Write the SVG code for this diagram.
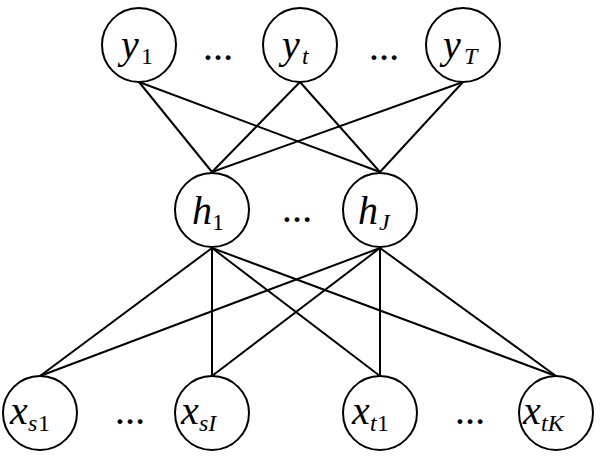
<svg xmlns="http://www.w3.org/2000/svg" width="603" height="457" viewBox="0 0 603 457">
<style>
circle{fill:#fff;stroke:#000;stroke-width:2}
line{stroke:#000;stroke-width:2}
text{font-family:"Liberation Serif",serif;fill:#000}
.v{font-size:40px;font-style:italic}
.s{font-size:24px}
.si{font-size:24px;font-style:italic}
.d{font-size:30px;font-weight:bold}
</style>
<rect width="603" height="457" fill="#fff"/>
<g id="connectors">
<line x1="139" y1="82" x2="212" y2="172"/><line x1="139" y1="82" x2="380" y2="172"/>
<line x1="300" y1="82" x2="212" y2="172"/><line x1="300" y1="82" x2="380" y2="172"/>
<line x1="463" y1="82" x2="212" y2="172"/><line x1="463" y1="82" x2="380" y2="172"/>
<line x1="212" y1="248" x2="40" y2="376"/><line x1="212" y1="248" x2="212" y2="376"/><line x1="212" y1="248" x2="380" y2="376"/><line x1="212" y1="248" x2="556" y2="376"/>
<line x1="380" y1="248" x2="40" y2="376"/><line x1="380" y1="248" x2="212" y2="376"/><line x1="380" y1="248" x2="380" y2="376"/><line x1="380" y1="248" x2="556" y2="376"/>
</g>
<g id="y1"><circle cx="139" cy="45" r="37"/><text class="v" x="121" y="58">y</text><text class="s" x="141" y="64">1</text></g>
<g id="yt"><circle cx="300" cy="45" r="37"/><text class="v" x="282" y="58">y</text><text class="si" x="302" y="64">t</text></g>
<g id="yT"><circle cx="463" cy="45" r="37"/><text class="v" x="443" y="58">y</text><text class="si" x="464" y="64">T</text></g>
<g id="h1"><circle cx="212" cy="210" r="37"/><text class="v" x="192" y="224">h</text><text class="s" x="212" y="230">1</text></g>
<g id="hJ"><circle cx="380" cy="210" r="37"/><text class="v" x="358" y="224">h</text><text class="si" x="379" y="230">J</text></g>
<g id="xs1"><circle cx="40" cy="413" r="37"/><text class="v" x="10" y="424">x</text><text class="si" x="28" y="431">s</text><text class="s" x="38" y="431">1</text></g>
<g id="xsI"><circle cx="212" cy="413" r="37"/><text class="v" x="181" y="424">x</text><text class="si" x="199" y="431">sI</text></g>
<g id="xt1"><circle cx="380" cy="413" r="37"/><text class="v" x="352" y="424">x</text><text class="si" x="370" y="431">t</text><text class="s" x="377" y="431">1</text></g>
<g id="xtK"><circle cx="556" cy="413" r="37"/><text class="v" x="523" y="424">x</text><text class="si" x="541" y="431">tK</text></g>
<g id="dots">
<text class="d" x="218" y="60" text-anchor="middle">…</text>
<text class="d" x="384" y="60" text-anchor="middle">…</text>
<text class="d" x="297" y="222" text-anchor="middle">…</text>
<text class="d" x="130" y="424" text-anchor="middle">…</text>
<text class="d" x="470" y="424" text-anchor="middle">…</text>
</g>
</svg>
